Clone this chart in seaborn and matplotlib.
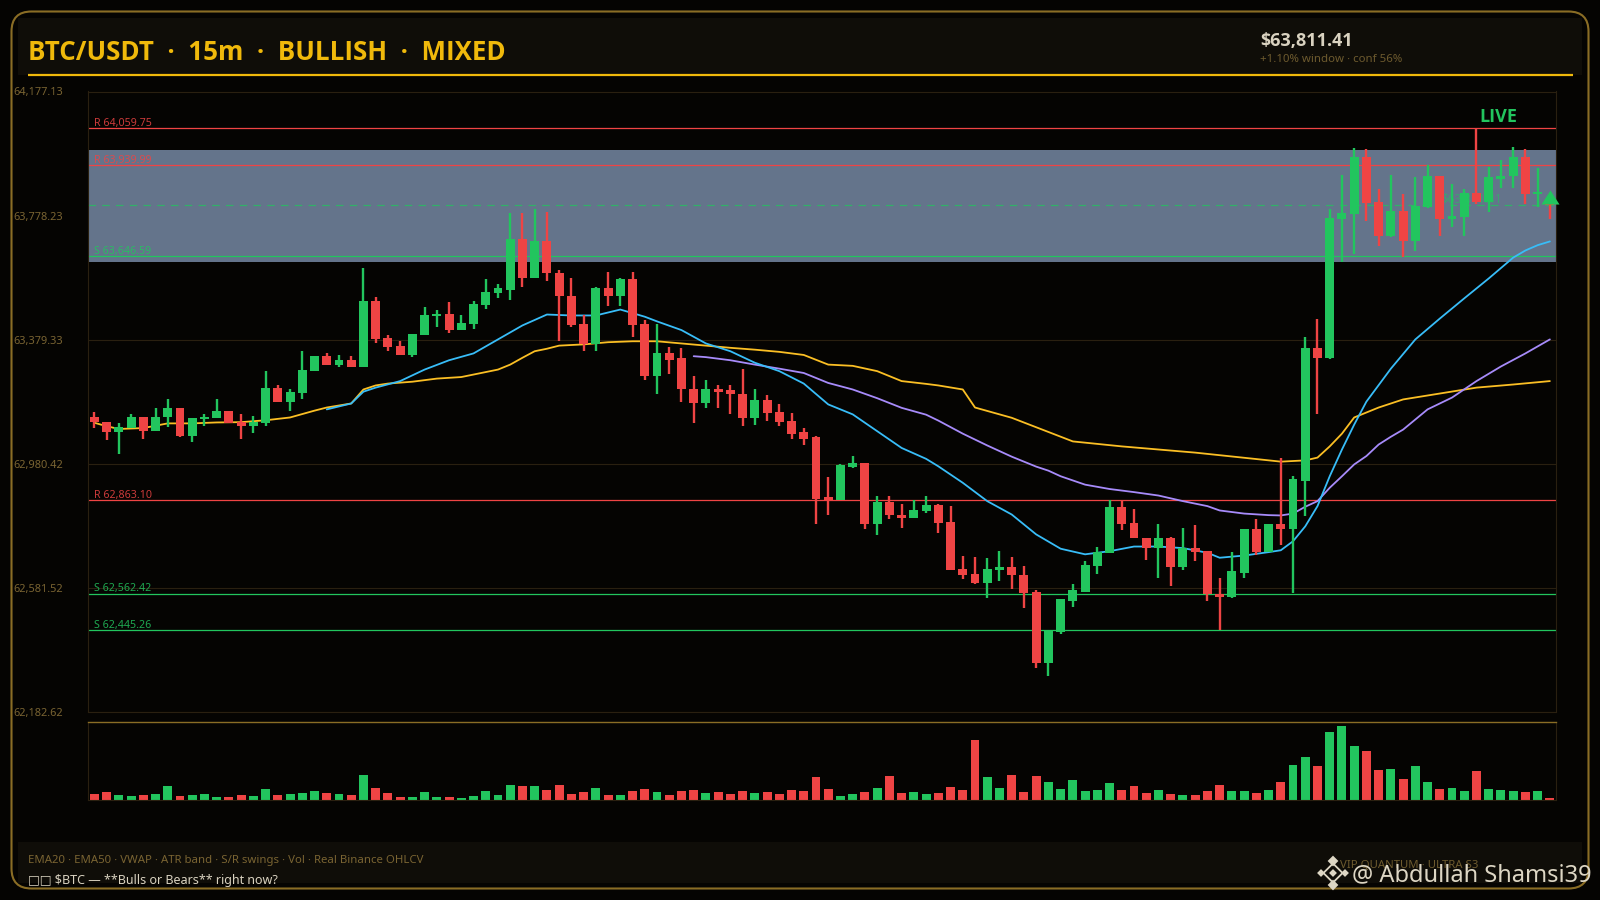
import numpy as np
import pandas as pd
import matplotlib
matplotlib.use("Agg")
import matplotlib.pyplot as plt
from matplotlib.patches import FancyBboxPatch, Rectangle
import seaborn as sns

opens = [63129,63116,63081,63094,63129,63087,63129,63158,63068,63123,63126,63151,63113,63103,63110,63225,63180,63209,63280,63328,
         63299,63315,63290,63505,63383,63360,63331,63393,63454,63463,63409,63431,63492,63528,63540,63704,63576,63698,63595,63521,
         63428,63364,63544,63521,63573,63428,63261,63335,63319,63222,63174,63222,63216,63206,63126,63184,63145,63119,63081,63065,
         62872,62865,62971,62984,62788,62856,62817,62807,62827,62849,62794,62643,62627,62598,62640,62647,62624,62569,62338,62438,
         62540,62569,62653,62692,62840,62791,62743,62708,62743,62647,62708,62701,62563,62553,62630,62769,62698,62785,62769,62926,
         63351,63319,63766,63782,63968,63823,63714,63794,63695,63807,63907,63766,63775,63852,63823,63897,63904,63968,63846,63830]
highs = [63148,63116,63110,63139,63129,63158,63187,63158,63126,63139,63187,63151,63139,63135,63277,63235,63222,63344,63328,63335,
         63331,63328,63611,63515,63393,63376,63396,63483,63473,63499,63457,63502,63573,63557,63785,63788,63798,63791,63602,63576,
         63460,63550,63598,63576,63598,63444,63428,63354,63351,63261,63251,63232,63235,63286,63219,63200,63171,63142,63094,63068,
         62939,62981,63004,62984,62875,62878,62852,62865,62875,62852,62843,62685,62679,62676,62701,62679,62650,62573,62441,62544,
         62592,62669,62711,62865,62865,62836,62743,62785,62746,62775,62782,62701,62614,62695,62769,62801,62788,63000,62942,63389,
         63447,63798,63910,63994,63991,63865,63910,63849,63901,63942,63907,63881,63865,64061,63933,63958,64000,63991,63930,63852]
lows = [63094,63058,63010,63094,63061,63087,63097,63065,63049,63100,63126,63110,63061,63078,63103,63180,63151,63190,63280,63299,
        63290,63290,63290,63370,63344,63331,63322,63393,63421,63402,63409,63412,63479,63512,63508,63547,63576,63569,63376,63421,
        63344,63344,63489,63486,63389,63248,63206,63270,63180,63110,63161,63161,63139,63100,63106,63119,63100,63061,63039,62785,
        62814,62865,62965,62769,62750,62801,62775,62807,62823,62759,62640,62611,62592,62550,62602,62579,62515,62325,62299,62434,
        62518,62569,62627,62692,62766,62740,62672,62614,62586,62640,62669,62540,62447,62550,62614,62688,62698,62720,62565,62811,
        63139,63316,63630,63656,63762,63679,63708,63646,63663,63801,63711,63743,63714,63814,63791,63868,63868,63814,63807,63766]
closes = [63113,63081,63097,63129,63087,63132,63158,63068,63126,63129,63151,63110,63103,63113,63225,63180,63212,63283,63328,63299,
          63315,63290,63505,63380,63357,63331,63396,63457,63463,63409,63434,63495,63531,63544,63704,63576,63698,63592,63518,63425,
          63364,63544,63521,63573,63425,63261,63335,63315,63219,63174,63222,63212,63203,63126,63184,63142,63116,63077,63061,62868,
          62862,62975,62984,62788,62856,62814,62807,62830,62849,62791,62640,62624,62598,62643,62647,62621,62566,62338,62441,62544,
          62573,62656,62695,62840,62788,62740,62708,62743,62647,62708,62698,62560,62553,62634,62769,62698,62785,62769,62930,63351,
          63319,63769,63785,63968,63820,63714,63794,63695,63810,63907,63766,63778,63852,63823,63901,63907,63968,63849,63852,63811.41]
volumes = [19,25,16,13,16,19,43,13,16,19,10,10,16,13,34,16,19,22,28,22,
           19,16,76,37,22,10,10,25,10,10,7,13,28,16,46,43,43,31,46,19,
           25,37,16,16,28,34,25,16,28,31,22,25,19,28,22,25,19,31,28,70,
           34,13,19,25,37,73,22,25,19,22,40,31,181,70,37,76,25,73,55,34,
           61,28,31,52,31,43,22,31,19,16,16,28,46,28,28,22,31,55,106,130,
           103,205,223,163,148,91,94,64,103,55,34,37,28,88,34,31,28,25,28,7]

ema20_idx = [19,21,22,23,25,27,29,31,33,35,37,39,41,43,45,46,48,50,52,54,56,58,60,62,64,66,68,69,71,73,75,77,79,81,83,85,87,89,91,92,94,96,97,98,99,100,101,102,103,104,106,108,110,112,114,116,117,118,119]
ema20_val = [63155,63174,63212,63225,63246,63283,63313,63335,63380,63425,63460,63457,63457,63476,63453,63438,63410,63367,63342,63305,63278,63238,63171,63139,63085,63031,62996,62972,62919,62860,62817,62753,62707,62689,62699,62714,62714,62709,62694,62678,62685,62696,62702,62731,62779,62844,62940,63026,63106,63180,63286,63380,63447,63512,63576,63643,63666,63683,63695]
ema50_idx = [49,50,52,54,56,58,60,62,64,66,68,69,71,73,75,77,78,79,81,83,85,87,89,91,92,94,96,97,98,99,100,101,102,103,104,105,106,107,109,111,113,115,117,119]
ema50_val = [63326,63323,63313,63299,63286,63272,63240,63219,63191,63160,63138,63119,63077,63039,63003,62971,62958,62940,62913,62899,62889,62878,62860,62844,62830,62820,62815,62814,62820,62842,62860,62903,62940,62978,63005,63042,63067,63090,63155,63193,63246,63293,63335,63380]
vwap_idx = [0,1,2,4,6,8,10,12,14,16,18,19,21,22,23,24,26,28,30,32,33,34,35,36,37,38,40,42,44,46,48,50,52,54,56,58,60,62,64,66,68,69,71,72,75,80,84,90,97,99,100,101,102,103,105,107,110,113,116,119]
vwap_val = [63112,63101,63092,63095,63110,63110,63113,63114,63120,63129,63151,63161,63174,63219,63232,63238,63244,63254,63259,63275,63283,63299,63321,63342,63350,63360,63364,63371,63374,63374,63367,63360,63353,63347,63340,63330,63299,63295,63278,63246,63237,63232,63219,63161,63128,63052,63036,63016,62987,62991,63000,63036,63077,63129,63161,63187,63206,63225,63235,63246]

y_ticks = [64177.13, 63778.23, 63379.33, 62980.42, 62581.52, 62182.62]
levels = [64059.75, 63939.99, 63646.59, 62863.10, 62562.42, 62445.26]
level_kind = ["R", "R", "S", "R", "S", "S"]
band_low, band_high = 63630.5, 63990.6
last_price = 63811.41

W, H = 1600, 900
GREEN, RED = "#22c55e", "#ef4444"
BLUE, PURPLE, AMBER = "#38bdf8", "#a78bfa", "#fbbf24"
GOLD = "#f0b90b"
BORDER = "#8a6d25"
DIM = "#7a6432"
GRID = "#2a2010"
BG = "#050402"
PANEL = "#0f0d08"
BOLD = "Open Sans"

sns.set_theme(style="dark", rc={"axes.grid": False})
plt.rcParams["font.family"] = ["Noto Sans", "DejaVu Sans"]

df = pd.DataFrame({"i": np.arange(len(opens)), "o": opens, "h": highs, "l": lows, "c": closes, "v": volumes})
df["dir"] = np.where(df.c >= df.o, "up", "down")
palette = {"up": GREEN, "down": RED}

fig = plt.figure(figsize=(16, 9), dpi=100, facecolor=BG)


def rect(l, t, r, b):
    return [l / W, 1 - b / H, (r - l) / W, (b - t) / H]


bg = fig.add_axes([0, 0, 1, 1], zorder=0)
bg.set_xlim(0, W)
bg.set_ylim(H, 0)
bg.axis("off")
bg.add_patch(Rectangle((18, 18), 1564, 57, fc=PANEL, ec="none"))
bg.add_patch(Rectangle((18, 842), 1564, 41, fc=PANEL, ec="none"))
bg.add_patch(FancyBboxPatch((11.5, 11.5), 1577, 877, boxstyle="round,pad=0,rounding_size=20",
                            fc="none", ec=BORDER, lw=1.5))
bg.plot([28, 1573], [75, 75], color=GOLD, lw=1.6, solid_capstyle="butt")
bg.text(28.5, 52, "BTC/USDT  ·  15m  ·  BULLISH  ·  MIXED", color=GOLD, fontsize=18.6,
        family=BOLD, fontweight="bold", va="center", ha="left")
bg.text(1260.5, 41.5, "$63,811.41", color="#d9d2c0", fontsize=13, family=BOLD, fontweight="bold", va="center")
bg.text(1260.5, 60, "+1.10% window · conf 56%", color="#6d5a2e", fontsize=8.25, va="center")
bg.text(28, 860, "EMA20 · EMA50 · VWAP · ATR band · S/R swings · Vol · Real Binance OHLCV",
        color="#7a6432", fontsize=8.2, va="center")
bg.text(28, 880.5, "□□ $BTC — **Bulls or Bears** right now?", color="#d9d2c0", fontsize=9.0, va="center")
bg.text(1340, 865.5, "VIP QUANTUM · ULTRA S3", color="#6d5a2e", fontsize=8.2, va="center")

ax = fig.add_axes(rect(88, 91.5, 1556, 711.8), facecolor=BG, zorder=1)
vax = fig.add_axes(rect(88, 722, 1556, 800), facecolor=BG, zorder=1)

ax.set_xlim(-0.52, 119.5)
ax.set_ylim(y_ticks[-1], y_ticks[0])
ax.set_yticks(y_ticks)
ax.set_yticklabels([f"{t:,.2f}" for t in y_ticks], color=DIM, fontsize=7.9, ha="left")
ax.tick_params(axis="y", length=0, pad=53.5)
ax.set_xticks([])
ax.set_xlabel("")
ax.set_axisbelow(True)
ax.grid(axis="y", color=GRID, lw=0.8)
for s in ax.spines.values():
    s.set_color(GRID)
    s.set_linewidth(0.8)

ax.axhspan(band_low, band_high, color="#64748b", lw=0, zorder=1.5)
ax.axhline(last_price, color=GREEN, lw=0.9, ls=(0, (6, 5)), alpha=0.75, zorder=1.8)
for lv, kind in zip(levels, level_kind):
    col = RED if kind == "R" else GREEN
    ax.axhline(lv, color=col, lw=0.9, zorder=2)
    ax.annotate(f"{kind} {lv:,.2f}", xy=(0, lv), xycoords=("axes fraction", "data"),
                xytext=(4.5, -0.4), textcoords="offset points", color=col, fontsize=7.7,
                va="bottom", ha="left", alpha=0.85, zorder=2.1)
ax.text(112.6, last_price + 19, f"${last_price:,.2f}", color=GREEN, alpha=0.55,
        fontsize=8.5, va="center", ha="center", zorder=2.2)

sns.lineplot(x=vwap_idx, y=vwap_val, color=AMBER, lw=1.3, estimator=None, errorbar=None, ax=ax, zorder=3)
sns.lineplot(x=ema50_idx, y=ema50_val, color=PURPLE, lw=1.3, estimator=None, errorbar=None, ax=ax, zorder=3)
sns.lineplot(x=ema20_idx, y=ema20_val, color=BLUE, lw=1.3, estimator=None, errorbar=None, ax=ax, zorder=3)
ax.set_xlabel("")
ax.set_ylabel("")

colors = df["dir"].map(palette)
ax.vlines(df.i, df.l, df.h, colors=colors, lw=1.7, zorder=4)
ax.bar(df.i, (df.c - df.o).abs().clip(lower=8), bottom=df[["o", "c"]].min(axis=1),
       width=0.73, color=colors, lw=0, zorder=5)
ax.text(114.8, 64094, "LIVE", color=GREEN, fontsize=13, family=BOLD, fontweight="bold",
        va="center", ha="center", zorder=6)
ax.plot([df.i.iloc[-1]], [last_price + 28], ls="none", color=GREEN, mew=0, ms=13,
        marker=[(-1, -0.78), (1, -0.78), (0, 0.78)], zorder=7, clip_on=False)

sns.barplot(data=df, x="i", y="v", hue="dir", palette=palette, dodge=False, native_scale=True,
            width=0.73, legend=False, lw=0, saturation=1, ax=vax)
vax.set_xlim(-0.52, 119.5)
vax.set_ylim(0, 234)
vax.set_xticks([])
vax.set_yticks([])
vax.set_xlabel("")
vax.set_ylabel("")
for s in vax.spines.values():
    s.set_color(GRID)
    s.set_linewidth(0.8)
vax.spines["top"].set_color(BORDER)
vax.spines["top"].set_linewidth(1.0)

over = fig.add_axes([0, 0, 1, 1], zorder=5)
over.set_xlim(0, W)
over.set_ylim(H, 0)
over.axis("off")
over.patch.set_alpha(0)
MARK = "#ddd6c4"
over.scatter([1333, 1333, 1321, 1345, 1333], [861, 885, 873, 873, 873],
             marker="D", s=[30, 30, 16, 16, 16], color=MARK, lw=0)
over.scatter([1333], [873], marker="D", s=95, facecolor="none", edgecolor=MARK, lw=1.3)
over.text(1352, 875, "@ Abdullah Shamsi39", color=MARK, fontsize=17, va="center", ha="left")

fig.savefig("out.png", dpi=100, facecolor=BG)
